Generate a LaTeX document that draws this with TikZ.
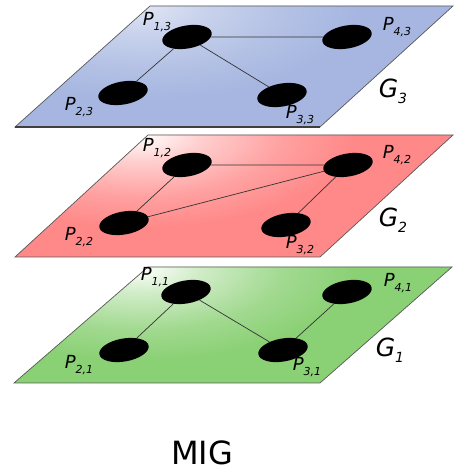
\documentclass[tikz,border=0pt]{standalone}
\usepackage{fontspec}
\setmainfont{DejaVu Sans}
\usetikzlibrary{shapes.geometric}
\definecolor{baseB}{RGB}{166,182,224}
\definecolor{baseR}{RGB}{255,136,136}
\definecolor{baseG}{RGB}{138,208,116}
\definecolor{edgeC}{RGB}{90,90,90}
\pgfdeclareradialshading{radB}{\pgfpoint{0bp}{0bp}}{color(0bp)=(white!65!baseB); color(5bp)=(white!40!baseB); color(12bp)=(white!15!baseB); color(18bp)=(baseB); color(50bp)=(baseB)}
\pgfdeclareradialshading{radR}{\pgfpoint{0bp}{0bp}}{color(0bp)=(white); color(5bp)=(white!60!baseR); color(12bp)=(white!20!baseR); color(18bp)=(baseR); color(50bp)=(baseR)}
\pgfdeclareradialshading{radG}{\pgfpoint{0bp}{0bp}}{color(0bp)=(white); color(5bp)=(white!60!baseG); color(12bp)=(white!20!baseG); color(18bp)=(baseG); color(50bp)=(baseG)}
\newcommand{\plbl}[2]{\itshape\fontsize{18}{18}\selectfont P\raisebox{-5pt}{\fontsize{11}{11}\selectfont #1,#2}}
\newcommand{\glbl}[1]{\itshape\fontsize{25}{25}\selectfont G\raisebox{-6pt}{\fontsize{14}{14}\selectfont #1}}
\begin{document}
\begin{tikzpicture}[x=1pt,y=1pt,
  plane/.style={draw=edgeC, line width=0.7pt},
  blob/.style={ellipse, fill=black, minimum width=50pt, minimum height=23pt, inner sep=0pt, rotate=10},
  link/.style={draw=black!80, line width=0.7pt},
  lbl/.style={inner sep=0pt}]
\useasboundingbox (0,0) rectangle (474,474);
% plane G1
\fill[baseG] (14,91) -- (320,91) -- (452,207) -- (148,207) -- cycle;
\begin{scope}
\clip (14,91) -- (320,91) -- (452,207) -- (148,207) -- cycle;
\shade[shading=radG] (140,207) ellipse [x radius=300, y radius=130];
\end{scope}
\draw[plane] (14,91) -- (320,91) -- (452,207) -- (148,207) -- cycle;
% plane G2
\fill[baseR] (15,217) -- (320,217) -- (453,339) -- (148,339) -- cycle;
\begin{scope}
\clip (15,217) -- (320,217) -- (453,339) -- (148,339) -- cycle;
\shade[shading=radR] (140,339) ellipse [x radius=300, y radius=130];
\end{scope}
\draw[plane] (15,217) -- (320,217) -- (453,339) -- (148,339) -- cycle;
% plane G3
\fill[baseB] (15,347) -- (320,347) -- (453,468) -- (150,468) -- cycle;
\begin{scope}
\clip (15,347) -- (320,347) -- (453,468) -- (150,468) -- cycle;
\shade[shading=radB] (142,468) ellipse [x radius=300, y radius=130];
\end{scope}
\draw[plane] (15,347) -- (320,347) -- (453,468) -- (150,468) -- cycle;
\draw[edgeC!70!black, line width=1.3pt] (15,347) -- (320,347);
% G3
\node[blob] (p13) at (187,437) {};
\node[blob] (p43) at (347,437) {};
\node[blob] (p23) at (123,381) {};
\node[blob] (p33) at (282,379) {};
\draw[link] (p13) -- (p43);
\draw[link] (p13) -- (p23);
\draw[link] (p13) -- (p33);
\node[lbl] (l13) at (157,452) {\plbl{1}{3}};
\node[lbl] (l43) at (397,447) {\plbl{4}{3}};
\node[lbl] (l23) at (79,367) {\plbl{2}{3}};
\node[lbl] (l33) at (300,359) {\plbl{3}{3}};
\node[lbl] (g3) at (393,383) {\glbl{3}};
% G2
\node[blob] (p12) at (187,309) {};
\node[blob] (p42) at (348,309) {};
\node[blob] (p22) at (124,251) {};
\node[blob] (p32) at (286,249) {};
\draw[link] (p12) -- (p42);
\draw[link] (p12) -- (p22);
\draw[link] (p22) -- (p42);
\draw[link] (p42) -- (p32);
\node[lbl] (l12) at (157,326) {\plbl{1}{2}};
\node[lbl] (l42) at (397,319) {\plbl{4}{2}};
\node[lbl] (l22) at (79,237) {\plbl{2}{2}};
\node[lbl] (l32) at (300,229) {\plbl{3}{2}};
\node[lbl] (g2) at (393,254) {\glbl{2}};
% G1
\node[blob] (p11) at (186,182) {};
\node[blob] (p41) at (347,182) {};
\node[blob] (p21) at (124,124) {};
\node[blob] (p31) at (283,124) {};
\draw[link] (p11) -- (p21);
\draw[link] (p11) -- (p31);
\draw[link] (p31) -- (p41);
\node[lbl] (l11) at (155,197) {\plbl{1}{1}};
\node[lbl] (l41) at (398,191) {\plbl{4}{1}};
\node[lbl] (l21) at (79,109) {\plbl{2}{1}};
\node[lbl] (l31) at (307,107) {\plbl{3}{1}};
\node[lbl] (g1) at (390,124) {\glbl{1}};
% caption
\node[lbl] (mig) at (202,21) {\fontsize{32}{32}\selectfont MIG};
\end{tikzpicture}
\end{document}
